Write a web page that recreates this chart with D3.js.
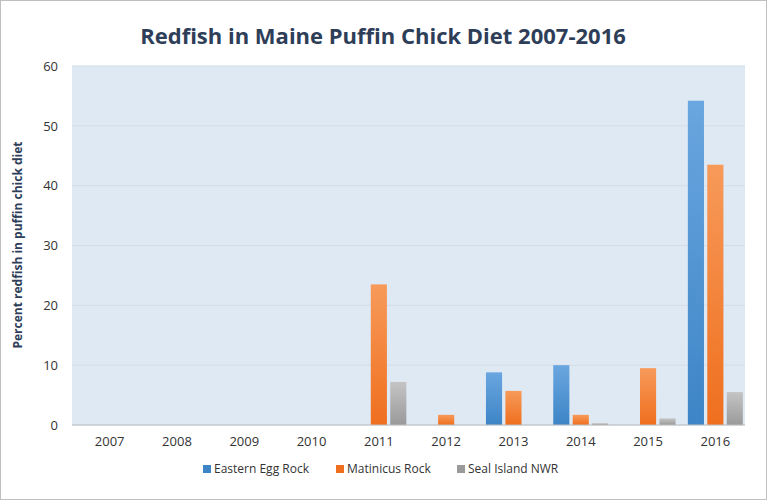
<!DOCTYPE html>
<html><head><meta charset="utf-8">
<script src="https://cdn.jsdelivr.net/npm/d3@7"></script>
<style>body{margin:0;background:#fff;font-family:"Open Sans",sans-serif}</style>
</head><body><svg id="c" width="767" height="500"></svg>
<script>
const years=["2007","2008","2009","2010","2011","2012","2013","2014","2015","2016"];
const seriesNames=["Eastern Egg Rock","Matinicus Rock","Seal Island NWR"];
const eastern=[0,0,0,0,0,0,8.8,10,0,54.2];
const matinicus=[0,0,0,0,23.5,1.7,5.7,1.7,9.5,43.5];
const seal=[0,0,0,0,7.2,0,0,0.3,1.1,5.5];
const yTicks=[0,10,20,30,40,50,60];
const colors=[["#6aa6e0","#3d85c6"],["#f79a5a","#ef6f1e"],["#c4c4c4","#9a9a9a"]];
const svg=d3.select("#c");
svg.append("rect").attr("x",0.5).attr("y",0.5).attr("width",766).attr("height",499).attr("fill","#fff").attr("stroke","#bfbfbf");
const m={l:72,r:745,t:66,b:425};
svg.append("rect").attr("x",m.l).attr("y",m.t).attr("width",m.r-m.l).attr("height",m.b-m.t).attr("fill","#dfe9f4");
const x=d3.scaleBand().domain(years).range([m.l+4,m.r+4]);
const xs=d3.scaleBand().domain([0,1,2]).range([0,55]).paddingInner(0.17);
const y=d3.scaleLinear().domain([0,60]).range([m.b,m.t]);
const defs=svg.append("defs");
colors.forEach((c,i)=>{const g=defs.append("linearGradient").attr("id","g"+i).attr("x1",0).attr("x2",0).attr("y1",0).attr("y2",1);
g.append("stop").attr("offset",0).attr("stop-color",c[0]);g.append("stop").attr("offset",1).attr("stop-color",c[1]);});
svg.append("g").selectAll("line").data(yTicks).join("line").attr("x1",m.l).attr("x2",m.r).attr("y1",d=>y(d)).attr("y2",d=>y(d)).attr("stroke","#d3dde8").attr("stroke-width",1);
[eastern,matinicus,seal].forEach((s,i)=>{
 svg.append("g").selectAll("rect").data(s).join("rect")
 .attr("x",(d,j)=>x(years[j])+(x.bandwidth()-55)/2+xs(i)).attr("width",xs.bandwidth())
 .attr("y",d=>y(d)).attr("height",d=>y(0)-y(d)).attr("fill","url(#g"+i+")");
});
const ya=svg.append("g").attr("transform",`translate(${m.l},0)`).call(d3.axisLeft(y).tickValues(yTicks).tickSize(0).tickPadding(14));
ya.select(".domain").remove();ya.selectAll("text").attr("font-size",13).attr("fill","#333").attr("font-family","Open Sans");
svg.append("line").attr("x1",m.l).attr("x2",m.r).attr("y1",m.b).attr("y2",m.b).attr("stroke","#bfbfbf");
const xa=svg.append("g").attr("transform",`translate(0,${m.b})`).call(d3.axisBottom(x).tickSize(0).tickPadding(12));
xa.select(".domain").remove();xa.selectAll("text").attr("font-size",13).attr("fill","#333").attr("font-family","Open Sans");
svg.append("text").attr("x",383).attr("y",44).attr("text-anchor","middle").attr("font-size",22).attr("font-weight","bold").attr("fill","#2e3e58").text("Redfish in Maine Puffin Chick Diet 2007-2016");
svg.append("text").attr("transform","translate(22,245) rotate(-90)").attr("text-anchor","middle").attr("font-size",12).attr("font-weight","bold").attr("fill","#2e3e58").text("Percent redfish in puffin chick diet");
const lx=[203,336,457];
seriesNames.forEach((n,i)=>{
 svg.append("rect").attr("x",lx[i]).attr("y",465).attr("width",8).attr("height",8).attr("fill",colors[i][1]);
 svg.append("text").attr("x",lx[i]+11).attr("y",473).attr("font-size",12).attr("fill","#333").text(n);
});
</script></body></html>
